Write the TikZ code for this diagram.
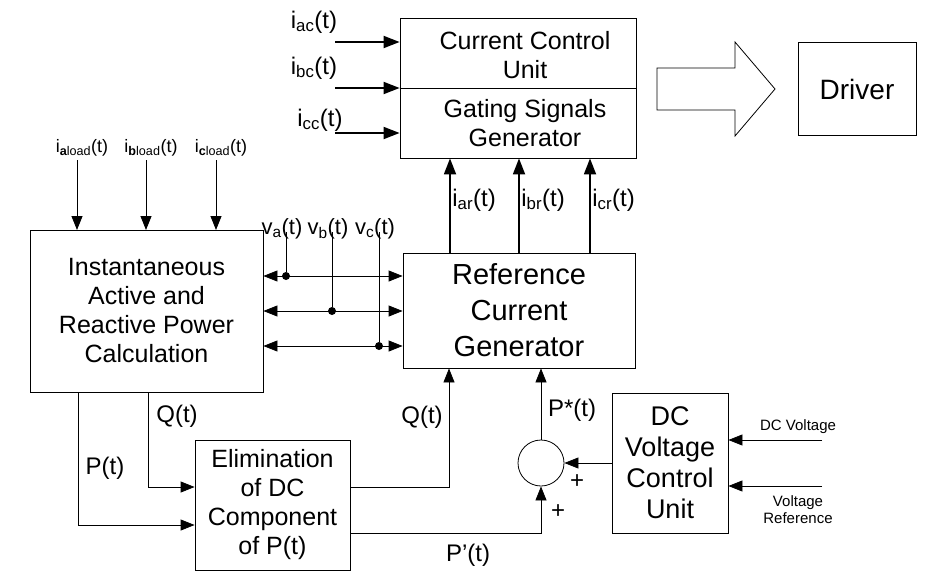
\documentclass[tikz,border=0pt]{standalone}
\usepackage{fontspec}
\setmainfont{Liberation Sans}
\usetikzlibrary{arrows,arrows.meta,positioning,shapes}
\tikzset{%
blk/.style={draw, thick, align=center, inner sep=0pt, font=\fontsize{25}{29}\selectfont},
txt/.style={align=center, inner sep=0pt, font=\fontsize{25}{29}\selectfont},
lbl/.style={font=\fontsize{24}{28}\selectfont, inner sep=1pt},
sml/.style={font=\fontsize{15}{17}\selectfont, inner sep=1pt, align=center},
tip/.tip={Triangle[length=14pt,width=11pt]},
pt/.style={draw, thick, -tip},
bpt/.style={draw, line width=1.8pt, -{Triangle[length=16pt,width=12pt]}},
dot/.style={circle, fill, inner sep=0pt, minimum size=8pt}
}
\begin{document}
\begin{tikzpicture}[x=1pt, y=-1pt, line width=0.8pt]
	\useasboundingbox (0,0) rectangle (925,586);
	% blocks
	\node[blk, minimum width=236, minimum height=140] (ccu) at (518,88) {};
	\draw[thick] (ccu.west) -- (ccu.east);
	\node[txt] (ccutxt) at (525,55) {Current Control\\Unit};
	\node[txt] (gsg) at (525,123) {Gating Signals\\Generator};
	\node[blk, minimum width=118, minimum height=93, font=\fontsize{28}{32}\selectfont] (drv) at (857,89) {Driver};
	\node[blk, minimum width=233, minimum height=162] (inst) at (146.5,311) {Instantaneous\\Active and\\Reactive Power\\Calculation};
	\node[blk, minimum width=232, minimum height=115, font=\fontsize{29}{36}\selectfont] (ref) at (519,310.5) {Reference\\Current\\Generator};
	\node[blk, minimum width=155, minimum height=130] (elim) at (272.5,505) {Elimination\\of DC\\Component\\of P(t)};
	\node[blk, minimum width=116, minimum height=140, font=\fontsize{27}{31}\selectfont] (dcu) at (670,463) {DC\\Voltage\\Control\\Unit};
	\node[draw, thick, circle, minimum size=46pt, inner sep=0pt] (sum) at (541,463) {};
	% hollow arrow to driver
	\draw[thick] (657,68) -- (735,68) -- (735,42) -- (775,89) -- (735,136) -- (735,110) -- (657,110) -- cycle;
	% current inputs
	\foreach \y/\s [count=\i] in {42/ac,88/bc,133/cc} {
		\coordinate (in\i) at (335,\y);
		\draw[bpt] (in\i) -- (in\i -| ccu.west);
	}
	\node[lbl] at (314,22) {i\textsubscript{ac}(t)};
	\node[lbl] at (314,68) {i\textsubscript{bc}(t)};
	\node[lbl] at (320,120) {i\textsubscript{cc}(t)};
	% load currents
	\foreach \x/\p in {77/a,146/b,216/c} {
		\node[sml, font=\fontsize{18}{20}\selectfont] (ld\p) at (\x+5,148) {i\textsubscript{\textbf{\p}load}(t)};
		\draw[pt] (\x,160) -- (\x,230);
	}
	% voltages
	\foreach \x/\y/\p in {286/276/a,332/311/b,379/346/c} {
		\coordinate (v\p) at (\x,232);
		\node[lbl, anchor=south, font=\fontsize{22}{26}\selectfont] at (\x-4,240) {v\textsubscript{\p}(t)};
		\draw[thick, tip-tip] (inst.east |- 0,\y) -- (ref.west |- 0,\y);
		\node[dot] (d\p) at (\x,\y) {};
		\draw[thick] (v\p) -- (d\p);
	}
	% reference currents
	\foreach \x/\p in {450/a,519/b,590/c} {
		\draw[bpt] (ref.north -| \x,0) -- (ccu.south -| \x,0);
		\node[lbl, anchor=west] at (\x+1,200) {i\textsubscript{\p r}(t)};
	}
	% powers
	\draw[pt] (inst.south -| 148,0) -- (148,487) -- (elim.west |- 0,487);
	\node[lbl] at (177,416) {Q(t)};
	\draw[pt] (inst.south -| 78,0) -- (78,525) -- (elim.west |- 0,525);
	\node[lbl] at (105,468) {P(t)};
	\draw[pt] (elim.east |- 0,487) -- (449,487) -- (ref.south -| 449,0);
	\node[lbl] at (422,417) {Q(t)};
	\draw[pt] (elim.east |- 0,533) -- (541,533) -- (sum.south);
	\node[lbl] at (468,555) {P'(t)};
	\draw[pt] (sum.north) -- (ref.south -| sum);
	\node[lbl] at (572,410) {P*(t)};
	\draw[pt] (dcu.west |- sum) -- (sum.east);
	\node[lbl] at (577,482) {+};
	\node[lbl] at (558,512) {+};
	% dc inputs
	\coordinate (dcv) at (822,440);
	\coordinate (vref) at (822,486);
	\draw[pt] (dcv) -- (dcv -| dcu.east);
	\draw[pt] (vref) -- (vref -| dcu.east);
	\node[sml] at (798,427) {DC Voltage};
	\node[sml] at (798,510) {Voltage\\Reference};
\end{tikzpicture}
\end{document}
